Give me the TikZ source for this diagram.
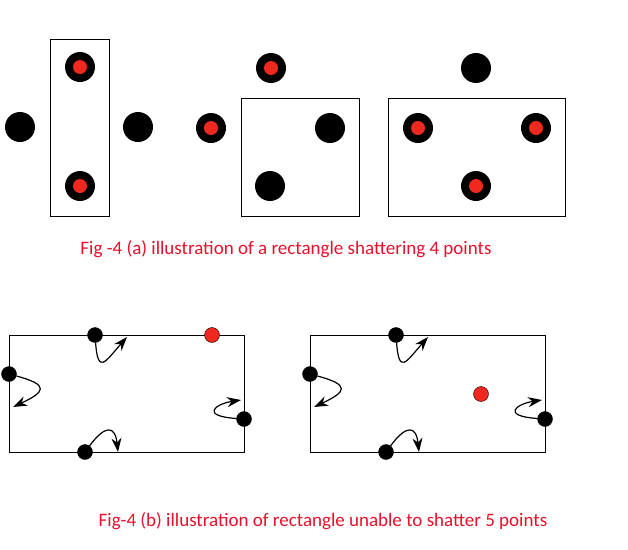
\documentclass[tikz,border=0pt]{standalone}
\usepackage{fontspec}
\setmainfont{Carlito}
\usetikzlibrary{arrows.meta}
\definecolor{capred}{HTML}{E8102A}
\definecolor{ptred}{HTML}{F0281E}
\tikzset{
  big/.style={circle,fill=black,minimum size=30pt,inner sep=0pt},
  hit/.style={big,path picture={\fill[ptred](path picture bounding box.center) circle (7pt);}},
  small/.style={circle,fill=black,draw=black,minimum size=15pt,inner sep=0pt},
  odd/.style={small,fill=ptred},
  box/.style={draw=black,line width=1pt},
  flick/.style={-{Stealth[length=14pt,width=10pt]},line width=1.2pt},
  figcap/.style={text=capred,font=\fontsize{19pt}{21pt}\selectfont}
}
\begin{document}
\begin{tikzpicture}[x=1pt,y=-1pt]
  \useasboundingbox (0,0) rectangle (628,549);
  % (a) three rectangles
  \draw[box] (50,39) rectangle (109,216);
  \node[big] (l1) at (20,127) {};
  \node[big] (r1) at (138,127) {};
  \node[hit] (t1) at (80,67) {};
  \node[hit] (b1) at (80,186) {};
  \draw[box] (241,98) rectangle (359,216);
  \node[hit] (t2) at (271,68) {};
  \node[hit] (l2) at (211,128) {};
  \node[big] (r2) at (330,128) {};
  \node[big] (b2) at (270,186) {};
  \draw[box] (388,98) rectangle (565,216);
  \node[big] (t3) at (476,68) {};
  \node[hit] (l3) at (418,128) {};
  \node[hit] (r3) at (536,128) {};
  \node[hit] (b3) at (476,186) {};
  \node[figcap] (capa) at (286,249) {Fig -4 (a) illustration of a rectangle shattering 4 points};
  % (b) two rectangles, five points
  \foreach \dx/\p in {0/p,301/q}{
    \draw[box] (9+\dx,335) rectangle (244+\dx,452);
    \node[small] (\p t) at (95+\dx,335) {};
    \node[small] (\p l) at (9+\dx,374) {};
    \node[small] (\p r) at (244+\dx,419) {};
    \node[small] (\p b) at (85+\dx,452) {};
    \coordinate (\p tt) at (127+\dx,337);
    \coordinate (\p lt) at (13+\dx,407);
    \coordinate (\p rt) at (241+\dx,400);
    \coordinate (\p bt) at (118+\dx,452);
    \draw[flick] (\p t) .. controls (98+\dx,375) and (105+\dx,362) .. (\p tt);
    \draw[flick] (\p l) .. controls (50+\dx,385) and (45+\dx,392) .. (\p lt);
    \draw[flick] (\p r) .. controls (200+\dx,416) and (215+\dx,404) .. (\p rt);
    \draw[flick] (\p b) .. controls (105+\dx,425) and (115+\dx,425) .. (\p bt);
  }
  \node[odd] (pe) at (212,335) {};
  \node[odd] (qe) at (481,394) {};
  \node[figcap] (capb) at (323,521) {Fig-4 (b) illustration of rectangle unable to shatter 5 points};
\end{tikzpicture}
\end{document}
